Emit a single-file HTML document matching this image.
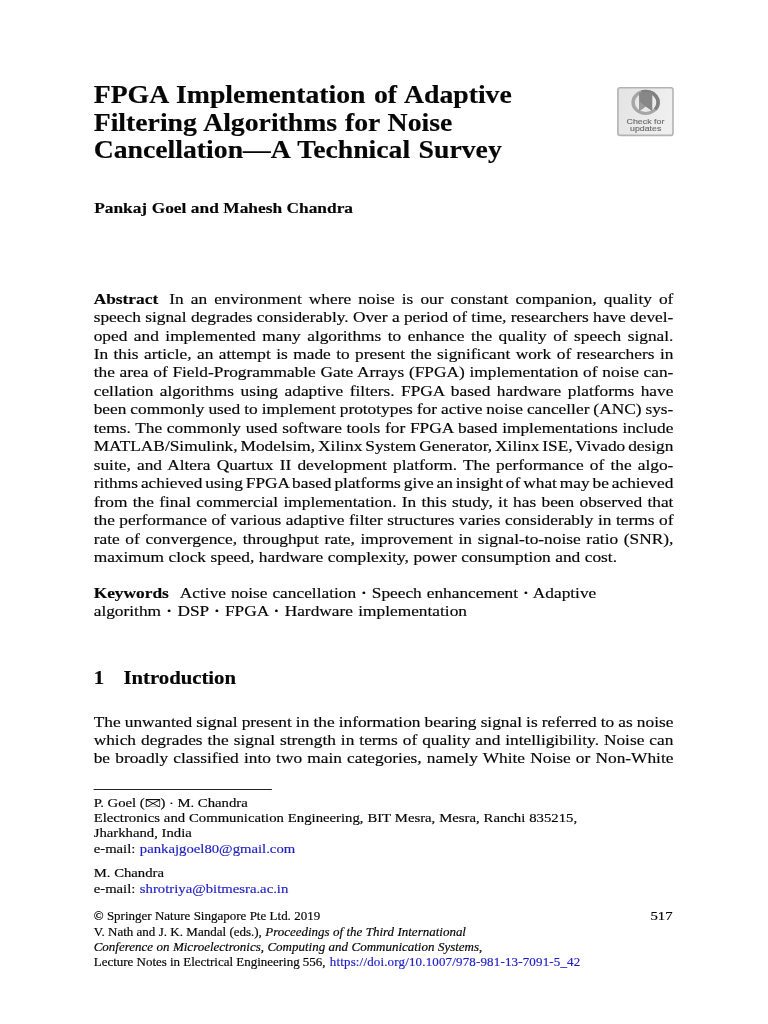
<!DOCTYPE html><html lang="en"><head><meta charset="utf-8"><title>FPGA Implementation of Adaptive Filtering Algorithms for Noise Cancellation—A Technical Survey</title><style>
html,body{margin:0;padding:0;background:#fff;}
body{width:768px;height:1024px;overflow:hidden;position:relative;}
#pg{position:absolute;left:0;top:0;width:680.85px;height:1024px;transform:scaleX(1.128);transform-origin:0 0;
 font-family:"Liberation Serif",serif;color:#060606;}
.l{position:absolute;white-space:pre;line-height:1;margin:0;-webkit-text-stroke:0.17px;}
.l>span{display:inline-block;}
.b{font-weight:bold;}
b{font-weight:bold;}
i.g{display:inline-block;width:9.8px;}
i.g2{display:inline-block;width:17.2px;}
em{font-style:italic;}
.a{color:#1d1dc6;}
.env{display:inline-block;width:13.4px;height:8.8px;vertical-align:-0.4px;margin:0 0.3px;}
#rule{position:absolute;left:83.07px;top:789px;width:158.07px;height:1px;background:#222;}
</style></head><body>
<div id="pg">
<div class="l b" style="left:83.07px;top:83.00px;font-size:24.59px;word-spacing:1.344px;"><span id="s0">FPGA Implementation of Adaptive</span></div>
<div class="l b" style="left:83.07px;top:111.00px;font-size:24.59px;word-spacing:0.766px;"><span id="s1">Filtering Algorithms for Noise</span></div>
<div class="l b" style="left:83.07px;top:138.00px;font-size:24.59px;word-spacing:1.317px;"><span id="s2">Cancellation—A Technical Survey</span></div>
<div class="l b" style="left:83.51px;top:200.00px;font-size:15.37px;word-spacing:0.175px;"><span id="s3">Pankaj Goel and Mahesh Chandra</span></div>
<div class="l " style="left:83.07px;top:291.00px;font-size:15.37px;word-spacing:2.425px;"><span id="s4"><b>Abstract</b><i class="g"></i>In an environment where noise is our constant companion, quality of</span></div>
<div class="l " style="left:83.07px;top:309.00px;font-size:15.37px;word-spacing:0.015px;"><span id="s5">speech signal degrades considerably. Over a period of time, researchers have devel-</span></div>
<div class="l " style="left:83.07px;top:328.00px;font-size:15.37px;word-spacing:1.895px;"><span id="s6">oped and implemented many algorithms to enhance the quality of speech signal.</span></div>
<div class="l " style="left:83.07px;top:346.00px;font-size:15.37px;word-spacing:0.973px;"><span id="s7">In this article, an attempt is made to present the significant work of researchers in</span></div>
<div class="l " style="left:83.07px;top:364.00px;font-size:15.37px;word-spacing:0.379px;"><span id="s8">the area of Field-Programmable Gate Arrays (FPGA) implementation of noise can-</span></div>
<div class="l " style="left:83.07px;top:383.00px;font-size:15.37px;word-spacing:1.935px;"><span id="s9">cellation algorithms using adaptive filters. FPGA based hardware platforms have</span></div>
<div class="l " style="left:83.07px;top:401.00px;font-size:15.37px;word-spacing:-0.316px;"><span id="s10">been commonly used to implement prototypes for active noise canceller (ANC) sys-</span></div>
<div class="l " style="left:83.07px;top:420.00px;font-size:15.37px;word-spacing:0.357px;"><span id="s11">tems. The commonly used software tools for FPGA based implementations include</span></div>
<div class="l " style="left:83.07px;top:438.00px;font-size:15.37px;word-spacing:-1.235px;"><span id="s12">MATLAB/Simulink, Modelsim, Xilinx System Generator, Xilinx ISE, Vivado design</span></div>
<div class="l " style="left:83.07px;top:457.00px;font-size:15.37px;word-spacing:1.653px;"><span id="s13">suite, and Altera Quartux II development platform. The performance of the algo-</span></div>
<div class="l " style="left:83.07px;top:475.00px;font-size:15.37px;word-spacing:-1.254px;"><span id="s14">rithms achieved using FPGA based platforms give an insight of what may be achieved</span></div>
<div class="l " style="left:83.07px;top:494.00px;font-size:15.37px;word-spacing:0.896px;"><span id="s15">from the final commercial implementation. In this study, it has been observed that</span></div>
<div class="l " style="left:83.07px;top:512.00px;font-size:15.37px;word-spacing:0.155px;"><span id="s16">the performance of various adaptive filter structures varies considerably in terms of</span></div>
<div class="l " style="left:83.07px;top:531.00px;font-size:15.37px;word-spacing:1.210px;"><span id="s17">rate of convergence, throughput rate, improvement in signal-to-noise ratio (SNR),</span></div>
<div class="l " style="left:83.07px;top:549.00px;font-size:15.37px;word-spacing:0.158px;"><span id="s18">maximum clock speed, hardware complexity, power consumption and cost.</span></div>
<div class="l " style="left:83.07px;top:585.00px;font-size:15.37px;word-spacing:0.525px;"><span id="s19"><b>Keywords</b><i class="g"></i>Active noise cancellation <b>·</b> Speech enhancement <b>·</b> Adaptive</span></div>
<div class="l " style="left:83.07px;top:603.00px;font-size:15.37px;word-spacing:0.851px;"><span id="s20">algorithm <b>·</b> DSP <b>·</b> FPGA <b>·</b> Hardware implementation</span></div>
<div class="l b" style="left:83.07px;top:669.00px;font-size:18.44px;letter-spacing:-0.026px;"><span id="s21">1<i class="g2"></i>Introduction</span></div>
<div class="l " style="left:83.07px;top:714.00px;font-size:15.37px;word-spacing:-0.201px;"><span id="s22">The unwanted signal present in the information bearing signal is referred to as noise</span></div>
<div class="l " style="left:83.07px;top:732.00px;font-size:15.37px;word-spacing:0.573px;"><span id="s23">which degrades the signal strength in terms of quality and intelligibility. Noise can</span></div>
<div class="l " style="left:83.07px;top:750.00px;font-size:15.37px;word-spacing:0.758px;"><span id="s24">be broadly classified into two main categories, namely White Noise or Non-White</span></div>
<div class="l " style="left:83.07px;top:796.00px;font-size:13.06px;word-spacing:-0.064px;"><span id="s25">P. Goel (<svg class="env" viewBox="0 0 12 8" preserveAspectRatio="none"><rect x="0.5" y="0.5" width="11" height="7" fill="none" stroke="#111" stroke-width="1.0"/><path d="M0.5 0.5L11.5 7.5M11.5 0.5L0.5 7.5" stroke="#111" stroke-width="0.8" fill="none"/></svg>) · M. Chandra</span></div>
<div class="l " style="left:83.07px;top:811.00px;font-size:13.06px;word-spacing:0.244px;"><span id="s26">Electronics and Communication Engineering, BIT Mesra, Mesra, Ranchi 835215,</span></div>
<div class="l " style="left:83.07px;top:826.00px;font-size:13.06px;"><span id="s27">Jharkhand, India</span></div>
<div class="l " style="left:83.07px;top:842.00px;font-size:13.06px;word-spacing:0.666px;"><span id="s28">e-mail: <span class="a">pankajgoel80@gmail.com</span></span></div>
<div class="l " style="left:83.07px;top:866.00px;font-size:13.06px;"><span id="s29">M. Chandra</span></div>
<div class="l " style="left:83.07px;top:882.00px;font-size:13.06px;word-spacing:0.721px;"><span id="s30">e-mail: <span class="a">shrotriya@bitmesra.ac.in</span></span></div>
<div class="l " style="left:83.07px;top:911.00px;font-size:11.53px;word-spacing:0.078px;"><span id="s31">© Springer Nature Singapore Pte Ltd. 2019</span></div>
<div class="l " style="left:576.68px;top:909.00px;font-size:13.06px;"><span id="s32">517</span></div>
<div class="l " style="left:83.07px;top:927.00px;font-size:11.53px;word-spacing:0.094px;"><span id="s33">V. Nath and J. K. Mandal (eds.), <em>Proceedings of the Third International</em></span></div>
<div class="l " style="left:83.07px;top:942.00px;font-size:11.53px;word-spacing:0.165px;"><span id="s34"><em>Conference on Microelectronics, Computing and Communication Systems</em>,</span></div>
<div class="l " style="left:83.07px;top:957.00px;font-size:11.53px;word-spacing:-0.067px;"><span id="s35">Lecture Notes in Electrical Engineering 556,</span></div>
<div class="l " style="left:292.38px;top:957.00px;font-size:11.53px;letter-spacing:0.139px;"><span id="s36"><span class="a">https://doi.org/10.1007/978-981-13-7091-5_42</span></span></div>
<div id="rule"></div>
</div>

<svg id="badge" style="position:absolute;left:612px;top:82px" width="68" height="60" viewBox="612 82 68 60">
 <defs><linearGradient id="bg" x1="0" y1="0" x2="1" y2="0.3"><stop offset="0" stop-color="#e3e3e3"/><stop offset="1" stop-color="#efefef"/></linearGradient></defs>
 <rect x="617.9" y="87.7" width="55.1" height="47.7" rx="2.2" fill="url(#bg)" stroke="#b3b3b3" stroke-width="1.6"/>
 <g transform="translate(617.1 86.9) scale(1.128 1)">
  <circle cx="25.3" cy="15.5" r="11.1" fill="none" stroke="#a6a6a6" stroke-width="3.1"/>
  <path d="M21.5 5.07A11.1 11.1 0 0 1 33.8 22.63" fill="none" stroke="#808080" stroke-width="3.1"/>
  <path d="M19.5 5.6h11.7v18.8l-5.85-4.9-5.85 4.9z" fill="#878787"/>
  <path d="M19.5 14.2l5.85 5.3-5.85 4.9z" fill="#9b9b9b"/>
 </g>
 <text x="645.5" y="123.8" font-family="Liberation Sans,sans-serif" font-size="7.7" fill="#6c6c6c" stroke="#6c6c6c" stroke-width="0.15" text-anchor="middle" textLength="37.9" lengthAdjust="spacingAndGlyphs">Check for</text>
 <text x="645.7" y="130.9" font-family="Liberation Sans,sans-serif" font-size="7.7" fill="#6c6c6c" stroke="#6c6c6c" stroke-width="0.15" text-anchor="middle" textLength="31.2" lengthAdjust="spacingAndGlyphs">updates</text>
</svg>

</body></html>
